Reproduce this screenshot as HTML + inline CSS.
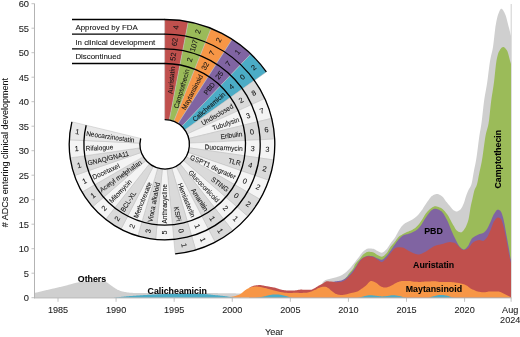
<!DOCTYPE html>
<html><head><meta charset="utf-8"><style>
html,body{margin:0;padding:0;background:#fff;}
svg{display:block;font-family:"Liberation Sans",Arial,Helvetica,sans-serif;} text{stroke:#222;stroke-width:0.08px;}
</style></head><body>
<svg width="520" height="337" viewBox="0 0 520 337">
<rect width="520" height="337" fill="#fff"/>
<line x1="511.2" y1="4" x2="511.2" y2="298" stroke="#cfcfcf" stroke-width="1"/>
<path d="M34.5,297.8 L34.5,292.98 35.0,292.86 35.5,292.74 36.0,292.62 36.5,292.50 37.0,292.38 37.5,292.26 38.0,292.14 38.5,292.02 39.0,291.90 39.5,291.78 40.0,291.66 40.5,291.54 41.0,291.42 41.5,291.30 42.0,291.18 42.5,291.06 43.0,290.95 43.5,290.83 44.0,290.71 44.5,290.59 45.0,290.47 45.5,290.36 46.0,290.24 46.5,290.12 47.0,290.00 47.5,289.88 48.0,289.77 48.5,289.65 49.0,289.53 49.5,289.42 50.0,289.30 50.5,289.18 51.0,289.07 51.5,288.95 52.0,288.84 52.5,288.72 53.0,288.61 53.5,288.50 54.0,288.38 54.5,288.27 55.0,288.16 55.5,288.04 56.0,287.93 56.5,287.82 57.0,287.70 57.5,287.59 58.0,287.47 58.5,287.36 59.0,287.24 59.5,287.12 60.0,287.00 60.5,286.88 61.0,286.76 61.5,286.64 62.0,286.51 62.5,286.39 63.0,286.27 63.5,286.14 64.0,286.02 64.5,285.89 65.0,285.76 65.5,285.64 66.0,285.51 66.5,285.38 67.0,285.26 67.5,285.13 68.0,285.00 68.5,284.87 69.0,284.74 69.5,284.60 70.0,284.46 70.5,284.31 71.0,284.17 71.5,284.03 72.0,283.88 72.5,283.74 73.0,283.60 73.5,283.46 74.0,283.32 74.5,283.19 75.0,283.06 75.5,282.93 76.0,282.81 76.5,282.70 77.0,282.60 77.5,282.50 78.0,282.41 78.5,282.31 79.0,282.22 79.5,282.13 80.0,282.04 80.5,281.96 81.0,281.88 81.5,281.80 82.0,281.72 82.5,281.65 83.0,281.59 83.5,281.53 84.0,281.48 84.5,281.44 85.0,281.40 85.5,281.37 86.0,281.33 86.5,281.30 87.0,281.27 87.5,281.24 88.0,281.22 88.5,281.19 89.0,281.17 89.5,281.15 90.0,281.13 90.5,281.12 91.0,281.11 91.5,281.10 92.0,281.10 92.5,281.10 93.0,281.10 93.5,281.11 94.0,281.12 94.5,281.12 95.0,281.13 95.5,281.14 96.0,281.16 96.5,281.17 97.0,281.19 97.5,281.20 98.0,281.22 98.5,281.24 99.0,281.26 99.5,281.28 100.0,281.30 100.5,281.32 101.0,281.35 101.5,281.39 102.0,281.43 102.5,281.47 103.0,281.53 103.5,281.59 104.0,281.65 104.5,281.73 105.0,281.81 105.5,281.90 106.0,282.04 106.5,282.25 107.0,282.52 107.5,282.84 108.0,283.20 108.5,283.58 109.0,283.97 109.5,284.35 110.0,284.72 110.5,285.07 111.0,285.40 111.5,285.75 112.0,286.10 112.5,286.45 113.0,286.80 113.5,287.14 114.0,287.46 114.5,287.79 115.0,288.13 115.5,288.46 116.0,288.78 116.5,289.10 117.0,289.39 117.5,289.66 118.0,289.90 118.5,290.12 119.0,290.33 119.5,290.53 120.0,290.72 120.5,290.90 121.0,291.07 121.5,291.23 122.0,291.38 122.5,291.51 123.0,291.62 123.5,291.73 124.0,291.84 124.5,291.94 125.0,292.03 125.5,292.12 126.0,292.21 126.5,292.29 127.0,292.36 127.5,292.43 128.0,292.49 128.5,292.54 129.0,292.59 129.5,292.63 130.0,292.67 130.5,292.71 131.0,292.75 131.5,292.79 132.0,292.82 132.5,292.85 133.0,292.88 133.5,292.91 134.0,292.93 134.5,292.95 135.0,292.97 135.5,292.99 136.0,293.00 136.5,293.01 137.0,293.02 137.5,293.03 138.0,293.04 138.5,293.05 139.0,293.06 139.5,293.07 140.0,293.08 140.5,293.08 141.0,293.09 141.5,293.09 142.0,293.10 142.5,293.10 143.0,293.10 143.5,293.10 144.0,293.10 144.5,293.10 145.0,293.10 145.5,293.10 146.0,293.10 146.5,293.10 147.0,293.10 147.5,293.10 148.0,293.10 148.5,293.10 149.0,293.10 149.5,293.10 150.0,293.10 150.5,293.10 151.0,293.09 151.5,293.09 152.0,293.09 152.5,293.09 153.0,293.09 153.5,293.09 154.0,293.09 154.5,293.09 155.0,293.09 155.5,293.09 156.0,293.09 156.5,293.09 157.0,293.08 157.5,293.08 158.0,293.08 158.5,293.08 159.0,293.08 159.5,293.08 160.0,293.08 160.5,293.08 161.0,293.08 161.5,293.08 162.0,293.07 162.5,293.07 163.0,293.07 163.5,293.07 164.0,293.07 164.5,293.07 165.0,293.07 165.5,293.07 166.0,293.06 166.5,293.06 167.0,293.06 167.5,293.06 168.0,293.06 168.5,293.06 169.0,293.06 169.5,293.06 170.0,293.05 170.5,293.05 171.0,293.05 171.5,293.05 172.0,293.05 172.5,293.05 173.0,293.05 173.5,293.04 174.0,293.04 174.5,293.04 175.0,293.04 175.5,293.04 176.0,293.04 176.5,293.04 177.0,293.04 177.5,293.03 178.0,293.03 178.5,293.03 179.0,293.03 179.5,293.03 180.0,293.03 180.5,293.03 181.0,293.03 181.5,293.02 182.0,293.02 182.5,293.02 183.0,293.02 183.5,293.02 184.0,293.02 184.5,293.02 185.0,293.02 185.5,293.02 186.0,293.02 186.5,293.01 187.0,293.01 187.5,293.01 188.0,293.01 188.5,293.01 189.0,293.01 189.5,293.01 190.0,293.01 190.5,293.01 191.0,293.01 191.5,293.01 192.0,293.01 192.5,293.00 193.0,293.00 193.5,293.00 194.0,293.00 194.5,293.00 195.0,293.00 195.5,293.00 196.0,293.00 196.5,293.00 197.0,293.00 197.5,293.00 198.0,293.00 198.5,293.00 199.0,293.00 199.5,293.00 200.0,293.00 200.5,293.00 201.0,293.00 201.5,293.00 202.0,293.00 202.5,293.00 203.0,293.00 203.5,293.01 204.0,293.01 204.5,293.01 205.0,293.01 205.5,293.01 206.0,293.02 206.5,293.02 207.0,293.02 207.5,293.03 208.0,293.03 208.5,293.03 209.0,293.04 209.5,293.04 210.0,293.05 210.5,293.05 211.0,293.05 211.5,293.06 212.0,293.06 212.5,293.07 213.0,293.07 213.5,293.08 214.0,293.08 214.5,293.09 215.0,293.09 215.5,293.10 216.0,293.11 216.5,293.11 217.0,293.12 217.5,293.12 218.0,293.13 218.5,293.14 219.0,293.14 219.5,293.15 220.0,293.15 220.5,293.16 221.0,293.17 221.5,293.17 222.0,293.18 222.5,293.19 223.0,293.19 223.5,293.20 224.0,293.21 224.5,293.21 225.0,293.22 225.5,293.23 226.0,293.23 226.5,293.24 227.0,293.25 227.5,293.25 228.0,293.26 228.5,293.27 229.0,293.27 229.5,293.28 230.0,293.29 230.5,293.29 231.0,293.30 231.5,293.31 232.0,293.31 232.5,293.32 233.0,293.33 233.5,293.33 234.0,293.34 234.5,293.35 235.0,293.36 235.5,293.37 236.0,293.38 236.5,293.39 237.0,293.40 237.5,293.42 238.0,293.44 238.5,293.47 239.0,293.51 239.5,293.54 240.0,293.56 240.5,293.58 241.0,293.59 L241.0,297.8 Z M321.0,297.8 L321.0,284.53 321.5,284.15 322.0,283.44 322.5,282.65 323.0,282.00 323.5,281.51 324.0,281.05 324.5,280.66 325.0,280.35 325.5,280.12 326.0,279.93 326.5,279.75 327.0,279.59 327.5,279.44 328.0,279.31 328.5,279.19 329.0,279.07 329.5,278.95 330.0,278.84 330.5,278.72 331.0,278.60 331.5,278.47 332.0,278.35 332.5,278.22 333.0,278.11 333.5,277.99 334.0,277.87 334.5,277.75 335.0,277.62 335.5,277.49 336.0,277.34 336.5,277.19 337.0,277.03 337.5,276.87 338.0,276.70 338.5,276.52 339.0,276.34 339.5,276.14 340.0,275.93 340.5,275.71 341.0,275.47 341.5,275.21 342.0,274.94 342.5,274.65 343.0,274.34 343.5,274.02 344.0,273.69 344.5,273.34 345.0,272.98 345.5,272.59 346.0,272.18 346.5,271.74 347.0,271.28 347.5,270.81 348.0,270.32 348.5,269.82 349.0,269.31 349.5,268.78 350.0,268.23 350.5,267.65 351.0,267.05 351.5,266.44 352.0,265.81 352.5,265.18 353.0,264.55 353.5,263.92 354.0,263.30 354.5,262.67 355.0,262.04 355.5,261.40 356.0,260.75 356.5,260.11 357.0,259.47 357.5,258.83 358.0,258.20 358.5,257.55 359.0,256.88 359.5,256.19 360.0,255.48 360.5,254.78 361.0,254.10 361.5,253.43 362.0,252.80 362.5,252.22 363.0,251.69 363.5,251.22 364.0,250.83 364.5,250.45 365.0,250.08 365.5,249.72 366.0,249.38 366.5,249.08 367.0,248.83 367.5,248.64 368.0,248.53 368.5,248.50 369.0,248.50 369.5,248.51 370.0,248.53 370.5,248.55 371.0,248.57 371.5,248.60 372.0,248.64 372.5,248.68 373.0,248.72 373.5,248.84 374.0,249.03 374.5,249.28 375.0,249.57 375.5,249.87 376.0,250.18 376.5,250.48 377.0,250.76 377.5,250.99 378.0,251.24 378.5,251.51 379.0,251.78 379.5,252.04 380.0,252.28 380.5,252.48 381.0,252.62 381.5,252.69 382.0,252.68 382.5,252.55 383.0,252.32 383.5,252.01 384.0,251.63 384.5,251.21 385.0,250.74 385.5,250.27 386.0,249.79 386.5,249.30 387.0,248.72 387.5,248.05 388.0,247.31 388.5,246.54 389.0,245.74 389.5,244.94 390.0,244.17 390.5,243.44 391.0,242.76 391.5,242.12 392.0,241.49 392.5,240.87 393.0,240.25 393.5,239.61 394.0,238.95 394.5,238.25 395.0,237.50 395.5,236.68 396.0,235.78 396.5,234.83 397.0,233.88 397.5,232.96 398.0,232.07 398.5,231.17 399.0,230.28 399.5,229.42 400.0,228.63 400.5,227.93 401.0,227.26 401.5,226.61 402.0,226.00 402.5,225.43 403.0,224.90 403.5,224.43 404.0,224.02 404.5,223.66 405.0,223.33 405.5,223.03 406.0,222.75 406.5,222.49 407.0,222.23 407.5,221.97 408.0,221.72 408.5,221.45 409.0,221.18 409.5,220.93 410.0,220.68 410.5,220.44 411.0,220.19 411.5,219.94 412.0,219.67 412.5,219.38 413.0,219.07 413.5,218.75 414.0,218.41 414.5,218.05 415.0,217.67 415.5,217.28 416.0,216.87 416.5,216.43 417.0,215.98 417.5,215.51 418.0,214.99 418.5,214.43 419.0,213.84 419.5,213.23 420.0,212.58 420.5,211.92 421.0,211.25 421.5,210.57 422.0,209.88 422.5,209.15 423.0,208.39 423.5,207.61 424.0,206.82 424.5,206.03 425.0,205.25 425.5,204.50 426.0,203.76 426.5,203.02 427.0,202.29 427.5,201.57 428.0,200.86 428.5,200.17 429.0,199.50 429.5,198.82 430.0,198.12 430.5,197.43 431.0,196.81 431.5,196.30 432.0,195.94 432.5,195.64 433.0,195.35 433.5,195.08 434.0,194.83 434.5,194.60 435.0,194.41 435.5,194.24 436.0,194.12 436.5,194.04 437.0,194.00 437.5,194.02 438.0,194.11 438.5,194.25 439.0,194.44 439.5,194.67 440.0,194.95 440.5,195.25 441.0,195.58 441.5,195.93 442.0,196.28 442.5,196.66 443.0,197.16 443.5,197.78 444.0,198.48 444.5,199.23 445.0,200.00 445.5,200.73 446.0,201.40 446.5,202.02 447.0,202.62 447.5,203.22 448.0,203.80 448.5,204.38 449.0,204.96 449.5,205.55 450.0,206.14 450.5,206.75 451.0,207.42 451.5,208.11 452.0,208.78 452.5,209.36 453.0,209.80 453.5,210.15 454.0,210.50 454.5,210.82 455.0,211.09 455.5,211.31 456.0,211.45 456.5,211.50 457.0,211.46 457.5,211.33 458.0,211.13 458.5,210.87 459.0,210.56 459.5,210.20 460.0,209.82 460.5,209.41 461.0,208.86 461.5,208.11 462.0,207.22 462.5,206.21 463.0,205.12 463.5,204.00 464.0,202.71 464.5,201.16 465.0,199.48 465.5,197.77 466.0,196.15 466.5,194.73 467.0,193.45 467.5,192.23 468.0,191.08 468.5,190.00 469.0,189.06 469.5,188.25 470.0,187.47 470.5,186.59 471.0,185.51 471.5,184.04 472.0,181.88 472.5,179.22 473.0,176.29 473.5,173.31 474.0,170.52 474.5,168.03 475.0,165.67 475.5,163.24 476.0,160.58 476.5,157.49 477.0,153.96 477.5,150.15 478.0,146.19 478.5,142.24 479.0,138.46 479.5,135.00 480.0,131.97 480.5,129.17 481.0,126.28 481.5,122.99 482.0,119.04 482.5,114.61 483.0,110.00 483.5,105.51 484.0,101.44 484.5,98.02 485.0,95.01 485.5,92.25 486.0,89.56 486.5,86.76 487.0,83.70 487.5,80.20 488.0,76.35 488.5,72.32 489.0,68.32 489.5,64.55 490.0,61.19 490.5,58.40 491.0,56.09 491.5,54.01 492.0,51.94 492.5,49.65 493.0,46.89 493.5,43.30 494.0,39.04 494.5,34.53 495.0,30.17 495.5,26.36 496.0,23.41 496.5,20.81 497.0,18.46 497.5,16.41 498.0,14.75 498.5,13.44 499.0,12.18 499.5,11.02 500.0,10.02 500.5,9.26 501.0,8.83 501.5,8.77 502.0,9.00 502.5,9.47 503.0,10.12 503.5,10.93 504.0,11.86 504.5,12.87 505.0,13.94 505.5,15.03 506.0,16.42 506.5,18.17 507.0,20.14 507.5,22.20 508.0,24.23 508.5,26.14 509.0,28.07 509.5,30.04 510.0,32.01 510.5,33.99 511.0,35.98 L511.0,297.8 Z" fill="#cfcfcf"/>
<path d="M344.0,297.8 L344.0,279.28 344.5,278.96 345.0,278.50 345.5,278.01 346.0,277.50 346.5,276.98 347.0,276.38 347.5,275.70 348.0,274.98 348.5,274.26 349.0,273.56 349.5,272.92 350.0,272.33 350.5,271.78 351.0,271.23 351.5,270.68 352.0,270.09 352.5,269.46 353.0,268.76 353.5,267.97 354.0,266.93 354.5,265.61 355.0,264.50 355.5,263.72 356.0,263.03 356.5,262.41 357.0,261.84 357.5,261.31 358.0,260.80 358.5,260.29 359.0,259.77 359.5,259.20 360.0,258.59 360.5,257.93 361.0,257.26 361.5,256.60 362.0,255.95 362.5,255.34 363.0,254.79 363.5,254.31 364.0,253.93 364.5,253.58 365.0,253.23 365.5,252.90 366.0,252.60 366.5,252.32 367.0,252.10 367.5,251.93 368.0,251.83 368.5,251.80 369.0,251.81 369.5,251.83 370.0,251.86 370.5,251.90 371.0,251.95 371.5,252.01 372.0,252.08 372.5,252.15 373.0,252.24 373.5,252.41 374.0,252.66 374.5,252.97 375.0,253.33 375.5,253.70 376.0,254.08 376.5,254.43 377.0,254.74 377.5,255.00 378.0,255.26 378.5,255.54 379.0,255.81 379.5,256.07 380.0,256.30 380.5,256.49 381.0,256.62 381.5,256.69 382.0,256.68 382.5,256.55 383.0,256.33 383.5,256.02 384.0,255.64 384.5,255.22 385.0,254.76 385.5,254.28 386.0,253.79 386.5,253.29 387.0,252.67 387.5,251.94 388.0,251.14 388.5,250.30 389.0,249.43 389.5,248.58 390.0,247.77 390.5,247.04 391.0,246.37 391.5,245.74 392.0,245.13 392.5,244.54 393.0,243.96 393.5,243.38 394.0,242.80 394.5,242.21 395.0,241.60 395.5,240.95 396.0,240.26 396.5,239.55 397.0,238.84 397.5,238.16 398.0,237.52 398.5,236.96 399.0,236.50 399.5,236.12 400.0,235.79 400.5,235.49 401.0,235.21 401.5,234.94 402.0,234.66 402.5,234.37 403.0,234.07 403.5,233.78 404.0,233.50 404.5,233.22 405.0,232.95 405.5,232.70 406.0,232.46 406.5,232.24 407.0,232.03 407.5,231.83 408.0,231.64 408.5,231.45 409.0,231.26 409.5,231.06 410.0,230.86 410.5,230.64 411.0,230.40 411.5,230.15 412.0,229.89 412.5,229.63 413.0,229.35 413.5,229.06 414.0,228.75 414.5,228.42 415.0,228.07 415.5,227.70 416.0,227.29 416.5,226.84 417.0,226.35 417.5,225.83 418.0,225.27 418.5,224.70 419.0,224.10 419.5,223.47 420.0,222.78 420.5,222.05 421.0,221.29 421.5,220.52 422.0,219.73 422.5,218.95 423.0,218.16 423.5,217.32 424.0,216.46 424.5,215.60 425.0,214.76 425.5,213.97 426.0,213.26 426.5,212.63 427.0,212.03 427.5,211.46 428.0,210.91 428.5,210.39 429.0,209.91 429.5,209.46 430.0,209.04 430.5,208.67 431.0,208.32 431.5,207.96 432.0,207.60 432.5,207.26 433.0,206.95 433.5,206.69 434.0,206.48 434.5,206.35 435.0,206.30 435.5,206.32 436.0,206.37 436.5,206.45 437.0,206.55 437.5,206.69 438.0,206.84 438.5,207.01 439.0,207.20 439.5,207.40 440.0,207.61 440.5,207.82 441.0,208.05 441.5,208.31 442.0,208.64 442.5,209.02 443.0,209.45 443.5,209.93 444.0,210.44 444.5,210.99 445.0,211.56 445.5,212.16 446.0,212.77 446.5,213.40 447.0,214.03 447.5,214.72 448.0,215.50 448.5,216.34 449.0,217.24 449.5,218.18 450.0,219.14 450.5,220.10 451.0,221.07 451.5,222.02 452.0,222.94 452.5,223.81 453.0,224.63 453.5,225.48 454.0,226.37 454.5,227.27 455.0,228.14 455.5,228.95 456.0,229.69 456.5,230.31 457.0,230.79 457.5,231.12 458.0,231.40 458.5,231.67 459.0,231.91 459.5,232.11 460.0,232.27 460.5,232.36 461.0,232.40 461.5,232.30 462.0,232.01 462.5,231.58 463.0,231.03 463.5,230.39 464.0,229.70 464.5,228.98 465.0,228.25 465.5,227.41 466.0,226.44 466.5,225.33 467.0,224.08 467.5,222.69 468.0,221.15 468.5,219.43 469.0,217.02 469.5,213.99 470.0,210.72 470.5,207.62 471.0,205.03 471.5,202.77 472.0,200.63 472.5,198.50 473.0,196.23 473.5,193.89 474.0,191.74 474.5,190.00 475.0,188.76 475.5,187.80 476.0,186.89 476.5,185.81 477.0,184.34 477.5,182.26 478.0,179.76 478.5,177.08 479.0,174.49 479.5,172.11 480.0,169.81 480.5,167.52 481.0,165.16 481.5,162.68 482.0,160.00 482.5,156.95 483.0,153.52 483.5,149.84 484.0,146.10 484.5,142.45 485.0,139.04 485.5,136.05 486.0,133.60 486.5,131.61 487.0,129.86 487.5,128.11 488.0,126.13 488.5,123.70 489.0,120.40 489.5,116.22 490.0,111.56 490.5,106.81 491.0,102.36 491.5,98.57 492.0,95.25 492.5,92.16 493.0,89.08 493.5,85.82 494.0,82.15 494.5,77.75 495.0,72.95 495.5,68.18 496.0,63.89 496.5,60.52 497.0,58.10 497.5,55.94 498.0,54.09 498.5,52.60 499.0,51.50 499.5,50.64 500.0,49.82 500.5,49.07 501.0,48.41 501.5,47.85 502.0,47.42 502.5,47.13 503.0,47.00 503.5,47.05 504.0,47.24 504.5,47.56 505.0,48.00 505.5,48.53 506.0,49.13 506.5,49.79 507.0,50.50 507.5,51.50 508.0,52.98 508.5,54.78 509.0,56.76 509.5,58.77 510.0,60.67 510.5,62.34 511.0,63.93 L511.0,297.8 Z" fill="#9bbb59"/>
<path d="M332.5,297.8 L332.5,281.75 333.0,281.80 333.5,281.77 334.0,281.69 334.5,281.58 335.0,281.46 335.5,281.35 336.0,281.27 336.5,281.20 337.0,281.14 337.5,281.09 338.0,281.03 338.5,280.98 339.0,280.91 339.5,280.84 340.0,280.76 340.5,280.66 341.0,280.53 341.5,280.38 342.0,280.20 342.5,280.00 343.0,279.78 343.5,279.54 344.0,279.28 344.5,279.01 345.0,278.72 345.5,278.38 346.0,278.00 346.5,277.57 347.0,277.11 347.5,276.63 348.0,276.13 348.5,275.62 349.0,275.11 349.5,274.59 350.0,274.05 350.5,273.48 351.0,272.89 351.5,272.28 352.0,271.66 352.5,271.03 353.0,270.38 353.5,269.73 354.0,269.07 354.5,268.39 355.0,267.69 355.5,266.97 356.0,266.24 356.5,265.50 357.0,264.71 357.5,263.86 358.0,263.00 358.5,262.17 359.0,261.42 359.5,260.80 360.0,260.28 360.5,259.78 361.0,259.31 361.5,258.88 362.0,258.48 362.5,258.12 363.0,257.79 363.5,257.50 364.0,257.25 364.5,257.02 365.0,256.78 365.5,256.55 366.0,256.34 366.5,256.16 367.0,256.00 367.5,255.89 368.0,255.82 368.5,255.80 369.0,255.81 369.5,255.84 370.0,255.88 370.5,255.94 371.0,256.00 371.5,256.08 372.0,256.16 372.5,256.25 373.0,256.34 373.5,256.48 374.0,256.68 374.5,256.91 375.0,257.16 375.5,257.42 376.0,257.69 376.5,257.95 377.0,258.18 377.5,258.38 378.0,258.59 378.5,258.82 379.0,259.05 379.5,259.26 380.0,259.46 380.5,259.62 381.0,259.73 381.5,259.79 382.0,259.77 382.5,259.62 383.0,259.35 383.5,258.99 384.0,258.55 384.5,258.07 385.0,257.55 385.5,257.02 386.0,256.50 386.5,255.99 387.0,255.43 387.5,254.82 388.0,254.16 388.5,253.48 389.0,252.77 389.5,252.05 390.0,251.34 390.5,250.64 391.0,249.94 391.5,249.23 392.0,248.51 392.5,247.78 393.0,247.05 393.5,246.32 394.0,245.60 394.5,244.89 395.0,244.20 395.5,243.51 396.0,242.81 396.5,242.11 397.0,241.42 397.5,240.76 398.0,240.13 398.5,239.54 399.0,239.00 399.5,238.49 400.0,237.99 400.5,237.49 401.0,237.02 401.5,236.57 402.0,236.15 402.5,235.77 403.0,235.44 403.5,235.17 404.0,234.96 404.5,234.80 405.0,234.66 405.5,234.54 406.0,234.44 406.5,234.34 407.0,234.24 407.5,234.13 408.0,234.01 408.5,233.87 409.0,233.71 409.5,233.55 410.0,233.37 410.5,233.18 411.0,232.99 411.5,232.78 412.0,232.56 412.5,232.34 413.0,232.11 413.5,231.86 414.0,231.61 414.5,231.34 415.0,231.06 415.5,230.76 416.0,230.44 416.5,230.10 417.0,229.73 417.5,229.33 418.0,228.88 418.5,228.36 419.0,227.79 419.5,227.19 420.0,226.56 420.5,225.90 421.0,225.23 421.5,224.49 422.0,223.69 422.5,222.86 423.0,222.01 423.5,221.16 424.0,220.33 424.5,219.55 425.0,218.78 425.5,218.01 426.0,217.25 426.5,216.50 427.0,215.77 427.5,215.07 428.0,214.40 428.5,213.73 429.0,213.06 429.5,212.39 430.0,211.76 430.5,211.18 431.0,210.69 431.5,210.30 432.0,209.97 432.5,209.65 433.0,209.35 433.5,209.09 434.0,208.88 434.5,208.75 435.0,208.70 435.5,208.72 436.0,208.78 436.5,208.89 437.0,209.02 437.5,209.19 438.0,209.38 438.5,209.60 439.0,209.84 439.5,210.10 440.0,210.38 440.5,210.66 441.0,210.96 441.5,211.34 442.0,211.82 442.5,212.40 443.0,213.05 443.5,213.78 444.0,214.58 444.5,215.42 445.0,216.30 445.5,217.20 446.0,218.13 446.5,219.06 447.0,219.99 447.5,220.99 448.0,222.10 448.5,223.29 449.0,224.52 449.5,225.79 450.0,227.06 450.5,228.31 451.0,229.51 451.5,230.65 452.0,231.78 452.5,232.91 453.0,234.04 453.5,235.15 454.0,236.24 454.5,237.30 455.0,238.33 455.5,239.32 456.0,240.28 456.5,241.26 457.0,242.24 457.5,243.22 458.0,244.16 458.5,245.05 459.0,245.85 459.5,246.55 460.0,247.11 460.5,247.56 461.0,247.99 461.5,248.40 462.0,248.77 462.5,249.08 463.0,249.32 463.5,249.46 464.0,249.50 464.5,249.38 465.0,249.12 465.5,248.74 466.0,248.27 466.5,247.74 467.0,247.18 467.5,246.61 468.0,245.98 468.5,245.15 469.0,244.17 469.5,243.10 470.0,242.00 470.5,240.93 471.0,239.95 471.5,239.12 472.0,238.50 472.5,238.03 473.0,237.61 473.5,237.24 474.0,236.91 474.5,236.59 475.0,236.30 475.5,236.01 476.0,235.73 476.5,235.45 477.0,235.18 477.5,234.92 478.0,234.68 478.5,234.45 479.0,234.25 479.5,234.07 480.0,233.91 480.5,233.79 481.0,233.68 481.5,233.57 482.0,233.44 482.5,233.29 483.0,233.10 483.5,232.84 484.0,232.48 484.5,232.05 485.0,231.55 485.5,230.99 486.0,230.39 486.5,229.76 487.0,229.08 487.5,228.26 488.0,227.31 488.5,226.28 489.0,225.19 489.5,224.07 490.0,222.96 490.5,221.89 491.0,220.75 491.5,219.53 492.0,218.29 492.5,217.06 493.0,215.90 493.5,214.85 494.0,213.96 494.5,213.18 495.0,212.40 495.5,211.64 496.0,210.94 496.5,210.34 497.0,209.90 497.5,209.64 498.0,209.61 498.5,209.72 499.0,209.93 499.5,210.22 500.0,210.59 500.5,211.00 501.0,211.66 501.5,212.71 502.0,214.06 502.5,215.64 503.0,217.35 503.5,219.15 504.0,221.38 504.5,223.99 505.0,226.82 505.5,229.73 506.0,232.56 506.5,235.25 507.0,237.95 507.5,240.68 508.0,243.43 508.5,246.21 509.0,249.08 509.5,252.32 510.0,255.52 510.5,258.14 511.0,259.85 L511.0,297.8 Z" fill="#8064a2"/>
<path d="M249.0,297.8 L249.0,288.04 249.5,287.70 250.0,287.40 250.5,287.13 251.0,286.86 251.5,286.61 252.0,286.38 252.5,286.19 253.0,286.02 253.5,285.86 254.0,285.72 254.5,285.60 255.0,285.49 255.5,285.38 256.0,285.29 256.5,285.22 257.0,285.19 257.5,285.16 258.0,285.14 258.5,285.12 259.0,285.11 259.5,285.10 260.0,285.10 260.5,285.11 261.0,285.16 261.5,285.22 262.0,285.30 262.5,285.39 263.0,285.50 263.5,285.60 264.0,285.71 264.5,285.81 265.0,285.90 265.5,285.99 266.0,286.07 266.5,286.16 267.0,286.25 267.5,286.34 268.0,286.43 268.5,286.53 269.0,286.62 269.5,286.71 270.0,286.80 270.5,286.89 271.0,286.97 271.5,287.05 272.0,287.14 272.5,287.22 273.0,287.30 273.5,287.39 274.0,287.49 274.5,287.59 275.0,287.70 275.5,287.83 276.0,287.97 276.5,288.14 277.0,288.31 277.5,288.49 278.0,288.67 278.5,288.85 279.0,289.01 279.5,289.17 280.0,289.30 280.5,289.42 281.0,289.55 281.5,289.67 282.0,289.78 282.5,289.90 283.0,290.00 283.5,290.09 284.0,290.18 284.5,290.25 285.0,290.30 285.5,290.35 286.0,290.39 286.5,290.43 287.0,290.47 287.5,290.51 288.0,290.54 288.5,290.56 289.0,290.58 289.5,290.60 290.0,290.60 290.5,290.60 291.0,290.59 291.5,290.58 292.0,290.56 292.5,290.54 293.0,290.51 293.5,290.49 294.0,290.46 294.5,290.43 295.0,290.40 295.5,290.36 296.0,290.29 296.5,290.22 297.0,290.13 297.5,290.03 298.0,289.94 298.5,289.84 299.0,289.76 299.5,289.69 300.0,289.64 300.5,289.61 301.0,289.60 301.5,289.61 302.0,289.62 302.5,289.64 303.0,289.67 303.5,289.69 304.0,289.72 304.5,289.74 305.0,289.77 305.5,289.78 306.0,289.80 306.5,289.80 307.0,289.80 307.5,289.80 308.0,289.79 308.5,289.78 309.0,289.77 309.5,289.76 310.0,289.74 310.5,289.73 311.0,289.71 311.5,289.67 312.0,289.55 312.5,289.35 313.0,289.11 313.5,288.82 314.0,288.51 314.5,288.20 315.0,287.91 315.5,287.64 316.0,287.35 316.5,287.04 317.0,286.73 317.5,286.41 318.0,286.10 318.5,285.79 319.0,285.51 319.5,285.24 320.0,285.00 320.5,284.76 321.0,284.53 321.5,284.30 322.0,284.05 322.5,283.77 323.0,283.44 323.5,283.08 324.0,282.71 324.5,282.34 325.0,282.00 325.5,281.71 326.0,281.48 326.5,281.34 327.0,281.30 327.5,281.31 328.0,281.33 328.5,281.35 329.0,281.39 329.5,281.43 330.0,281.47 330.5,281.52 331.0,281.56 331.5,281.61 332.0,281.67 332.5,281.75 333.0,281.84 333.5,281.93 334.0,282.02 334.5,282.10 335.0,282.16 335.5,282.19 336.0,282.20 336.5,282.19 337.0,282.18 337.5,282.17 338.0,282.15 338.5,282.12 339.0,282.09 339.5,282.06 340.0,282.02 340.5,281.98 341.0,281.90 341.5,281.77 342.0,281.60 342.5,281.40 343.0,281.18 343.5,280.93 344.0,280.67 344.5,280.41 345.0,280.13 345.5,279.79 346.0,279.40 346.5,278.97 347.0,278.51 347.5,278.02 348.0,277.51 348.5,277.00 349.0,276.50 349.5,276.00 350.0,275.51 350.5,275.00 351.0,274.48 351.5,273.95 352.0,273.39 352.5,272.80 353.0,272.19 353.5,271.54 354.0,270.82 354.5,270.01 355.0,269.14 355.5,268.24 356.0,267.35 356.5,266.50 357.0,265.67 357.5,264.83 358.0,263.99 358.5,263.19 359.0,262.45 359.5,261.80 360.0,261.20 360.5,260.61 361.0,260.03 361.5,259.49 362.0,258.98 362.5,258.53 363.0,258.13 363.5,257.80 364.0,257.56 364.5,257.34 365.0,257.13 365.5,256.93 366.0,256.75 366.5,256.59 367.0,256.47 367.5,256.37 368.0,256.31 368.5,256.30 369.0,256.31 369.5,256.35 370.0,256.40 370.5,256.47 371.0,256.54 371.5,256.63 372.0,256.73 372.5,256.84 373.0,256.95 373.5,257.12 374.0,257.35 374.5,257.62 375.0,257.92 375.5,258.24 376.0,258.58 376.5,258.91 377.0,259.22 377.5,259.52 378.0,259.86 378.5,260.24 379.0,260.63 379.5,261.02 380.0,261.37 380.5,261.66 381.0,261.88 381.5,261.99 382.0,261.97 382.5,261.82 383.0,261.55 383.5,261.18 384.0,260.74 384.5,260.25 385.0,259.73 385.5,259.20 386.0,258.69 386.5,258.20 387.0,257.66 387.5,257.07 388.0,256.44 388.5,255.79 389.0,255.13 389.5,254.47 390.0,253.83 390.5,253.22 391.0,252.61 391.5,251.97 392.0,251.30 392.5,250.63 393.0,249.99 393.5,249.40 394.0,248.89 394.5,248.48 395.0,248.20 395.5,247.99 396.0,247.80 396.5,247.62 397.0,247.48 397.5,247.37 398.0,247.31 398.5,247.30 399.0,247.30 399.5,247.31 400.0,247.33 400.5,247.34 401.0,247.36 401.5,247.38 402.0,247.41 402.5,247.48 403.0,247.62 403.5,247.81 404.0,248.04 404.5,248.31 405.0,248.61 405.5,248.92 406.0,249.24 406.5,249.56 407.0,249.86 407.5,250.14 408.0,250.40 408.5,250.66 409.0,250.94 409.5,251.22 410.0,251.50 410.5,251.78 411.0,252.06 411.5,252.33 412.0,252.59 412.5,252.82 413.0,253.04 413.5,253.23 414.0,253.40 414.5,253.57 415.0,253.75 415.5,253.91 416.0,254.07 416.5,254.21 417.0,254.33 417.5,254.42 418.0,254.48 418.5,254.50 419.0,254.47 419.5,254.40 420.0,254.28 420.5,254.12 421.0,253.93 421.5,253.72 422.0,253.49 422.5,253.24 423.0,252.99 423.5,252.74 424.0,252.49 424.5,252.25 425.0,252.00 425.5,251.73 426.0,251.44 426.5,251.13 427.0,250.81 427.5,250.47 428.0,250.13 428.5,249.79 429.0,249.44 429.5,249.10 430.0,248.76 430.5,248.43 431.0,248.11 431.5,247.80 432.0,247.49 432.5,247.17 433.0,246.85 433.5,246.54 434.0,246.26 434.5,246.01 435.0,245.80 435.5,245.63 436.0,245.47 436.5,245.33 437.0,245.19 437.5,245.07 438.0,244.95 438.5,244.84 439.0,244.74 439.5,244.63 440.0,244.53 440.5,244.43 441.0,244.32 441.5,244.21 442.0,244.10 442.5,243.97 443.0,243.84 443.5,243.69 444.0,243.53 444.5,243.36 445.0,243.19 445.5,243.02 446.0,242.85 446.5,242.69 447.0,242.55 447.5,242.41 448.0,242.30 448.5,242.21 449.0,242.14 449.5,242.11 450.0,242.10 450.5,242.12 451.0,242.16 451.5,242.22 452.0,242.29 452.5,242.38 453.0,242.49 453.5,242.60 454.0,242.72 454.5,242.86 455.0,243.11 455.5,243.45 456.0,243.87 456.5,244.35 457.0,244.86 457.5,245.37 458.0,245.87 458.5,246.33 459.0,246.76 459.5,247.23 460.0,247.74 460.5,248.26 461.0,248.75 461.5,249.20 462.0,249.58 462.5,249.85 463.0,249.99 463.5,249.99 464.0,249.95 464.5,249.87 465.0,249.75 465.5,249.61 466.0,249.45 466.5,249.26 467.0,249.06 467.5,248.84 468.0,248.56 468.5,248.11 469.0,247.52 469.5,246.85 470.0,246.12 470.5,245.38 471.0,244.67 471.5,244.02 472.0,243.49 472.5,243.05 473.0,242.62 473.5,242.21 474.0,241.83 474.5,241.49 475.0,241.20 475.5,240.97 476.0,240.80 476.5,240.64 477.0,240.49 477.5,240.36 478.0,240.25 478.5,240.16 479.0,240.11 479.5,240.10 480.0,240.16 480.5,240.28 481.0,240.43 481.5,240.60 482.0,240.75 482.5,240.86 483.0,240.90 483.5,240.81 484.0,240.58 484.5,240.21 485.0,239.75 485.5,239.21 486.0,238.63 486.5,238.04 487.0,237.41 487.5,236.63 488.0,235.71 488.5,234.69 489.0,233.59 489.5,232.45 490.0,231.30 490.5,230.17 491.0,228.94 491.5,227.57 492.0,226.14 492.5,224.74 493.0,223.42 493.5,222.27 494.0,221.35 494.5,220.63 495.0,219.91 495.5,219.24 496.0,218.63 496.5,218.13 497.0,217.75 497.5,217.54 498.0,217.51 498.5,217.57 499.0,217.70 499.5,217.89 500.0,218.12 500.5,218.40 501.0,218.98 501.5,220.03 502.0,221.43 502.5,223.06 503.0,224.78 503.5,226.50 504.0,228.48 504.5,230.73 505.0,233.15 505.5,235.67 506.0,238.20 506.5,240.77 507.0,243.53 507.5,246.36 508.0,249.18 508.5,251.88 509.0,254.38 509.5,256.83 510.0,259.15 510.5,261.25 511.0,263.05 L511.0,297.8 Z" fill="#c0504d"/>
<path d="M230.0,297.8 L230.0,296.90 230.5,296.84 231.0,296.78 231.5,296.71 232.0,296.64 232.5,296.57 233.0,296.49 233.5,296.40 234.0,296.30 234.5,296.19 235.0,296.05 235.5,295.90 236.0,295.74 236.5,295.57 237.0,295.40 237.5,295.24 238.0,295.07 238.5,294.90 239.0,294.71 239.5,294.49 240.0,294.24 240.5,293.94 241.0,293.59 241.5,293.21 242.0,292.81 242.5,292.41 243.0,292.02 243.5,291.61 244.0,291.17 244.5,290.74 245.0,290.35 245.5,289.99 246.0,289.67 246.5,289.36 247.0,289.07 247.5,288.80 248.0,288.54 248.5,288.28 249.0,288.04 249.5,287.82 250.0,287.62 250.5,287.42 251.0,287.24 251.5,287.07 252.0,286.94 252.5,286.84 253.0,286.75 253.5,286.67 254.0,286.62 254.5,286.60 255.0,286.60 255.5,286.60 256.0,286.60 256.5,286.60 257.0,286.60 257.5,286.61 258.0,286.65 258.5,286.70 259.0,286.76 259.5,286.83 260.0,286.90 260.5,286.97 261.0,287.06 261.5,287.16 262.0,287.27 262.5,287.38 263.0,287.51 263.5,287.63 264.0,287.75 264.5,287.88 265.0,288.00 265.5,288.12 266.0,288.24 266.5,288.37 267.0,288.50 267.5,288.63 268.0,288.76 268.5,288.90 269.0,289.03 269.5,289.17 270.0,289.30 270.5,289.44 271.0,289.58 271.5,289.72 272.0,289.86 272.5,290.01 273.0,290.15 273.5,290.29 274.0,290.43 274.5,290.57 275.0,290.70 275.5,290.83 276.0,290.96 276.5,291.09 277.0,291.22 277.5,291.34 278.0,291.46 278.5,291.58 279.0,291.69 279.5,291.80 280.0,291.90 280.5,292.00 281.0,292.09 281.5,292.19 282.0,292.28 282.5,292.37 283.0,292.45 283.5,292.52 284.0,292.59 284.5,292.65 285.0,292.70 285.5,292.74 286.0,292.79 286.5,292.83 287.0,292.87 287.5,292.90 288.0,292.94 288.5,292.96 289.0,292.98 289.5,293.00 290.0,293.00 290.5,292.99 291.0,292.98 291.5,292.96 292.0,292.93 292.5,292.90 293.0,292.87 293.5,292.84 294.0,292.82 294.5,292.81 295.0,292.80 295.5,292.80 296.0,292.81 296.5,292.82 297.0,292.83 297.5,292.84 298.0,292.85 298.5,292.87 299.0,292.88 299.5,292.89 300.0,292.89 300.5,292.90 301.0,292.90 301.5,292.90 302.0,292.89 302.5,292.88 303.0,292.87 303.5,292.85 304.0,292.83 304.5,292.81 305.0,292.79 305.5,292.76 306.0,292.73 306.5,292.70 307.0,292.65 307.5,292.57 308.0,292.47 308.5,292.35 309.0,292.21 309.5,292.06 310.0,291.89 310.5,291.73 311.0,291.56 311.5,291.40 312.0,291.22 312.5,291.02 313.0,290.81 313.5,290.59 314.0,290.36 314.5,290.12 315.0,289.89 315.5,289.66 316.0,289.41 316.5,289.14 317.0,288.87 317.5,288.60 318.0,288.34 318.5,288.10 319.0,287.88 319.5,287.69 320.0,287.49 320.5,287.31 321.0,287.14 321.5,287.00 322.0,286.91 322.5,286.86 323.0,286.81 323.5,286.76 324.0,286.73 324.5,286.71 325.0,286.70 325.5,286.75 326.0,286.89 326.5,287.10 327.0,287.35 327.5,287.63 328.0,287.90 328.5,288.21 329.0,288.60 329.5,289.03 330.0,289.49 330.5,289.96 331.0,290.40 331.5,290.80 332.0,291.18 332.5,291.57 333.0,291.97 333.5,292.35 334.0,292.73 334.5,293.07 335.0,293.39 335.5,293.67 336.0,293.89 336.5,294.06 337.0,294.22 337.5,294.38 338.0,294.52 338.5,294.65 339.0,294.77 339.5,294.86 340.0,294.94 340.5,294.98 341.0,295.00 341.5,294.99 342.0,294.97 342.5,294.93 343.0,294.89 343.5,294.83 344.0,294.77 344.5,294.70 345.0,294.62 345.5,294.55 346.0,294.47 346.5,294.36 347.0,294.23 347.5,294.09 348.0,293.93 348.5,293.76 349.0,293.60 349.5,293.44 350.0,293.30 350.5,293.17 351.0,293.05 351.5,292.94 352.0,292.83 352.5,292.73 353.0,292.63 353.5,292.52 354.0,292.42 354.5,292.31 355.0,292.19 355.5,292.06 356.0,291.92 356.5,291.77 357.0,291.61 357.5,291.42 358.0,291.20 358.5,290.93 359.0,290.62 359.5,290.29 360.0,289.94 360.5,289.58 361.0,289.22 361.5,288.85 362.0,288.50 362.5,288.15 363.0,287.79 363.5,287.43 364.0,287.06 364.5,286.68 365.0,286.29 365.5,285.90 366.0,285.50 366.5,285.05 367.0,284.53 367.5,283.96 368.0,283.37 368.5,282.79 369.0,282.25 369.5,281.77 370.0,281.39 370.5,281.12 371.0,281.00 371.5,281.02 372.0,281.09 372.5,281.22 373.0,281.38 373.5,281.58 374.0,281.81 374.5,282.05 375.0,282.31 375.5,282.58 376.0,282.84 376.5,283.11 377.0,283.43 377.5,283.82 378.0,284.24 378.5,284.68 379.0,285.13 379.5,285.55 380.0,285.93 380.5,286.26 381.0,286.50 381.5,286.70 382.0,286.90 382.5,287.08 383.0,287.25 383.5,287.39 384.0,287.50 384.5,287.57 385.0,287.60 385.5,287.58 386.0,287.52 386.5,287.43 387.0,287.31 387.5,287.17 388.0,287.01 388.5,286.85 389.0,286.67 389.5,286.50 390.0,286.30 390.5,286.04 391.0,285.76 391.5,285.47 392.0,285.20 392.5,284.94 393.0,284.67 393.5,284.39 394.0,284.10 394.5,283.82 395.0,283.53 395.5,283.26 396.0,282.99 396.5,282.73 397.0,282.49 397.5,282.27 398.0,282.07 398.5,281.89 399.0,281.74 399.5,281.59 400.0,281.44 400.5,281.30 401.0,281.17 401.5,281.06 402.0,280.98 402.5,280.92 403.0,280.90 403.5,280.90 404.0,280.90 404.5,280.91 405.0,280.91 405.5,280.92 406.0,280.93 406.5,280.93 407.0,280.94 407.5,280.96 408.0,280.97 408.5,280.98 409.0,280.99 409.5,281.01 410.0,281.06 410.5,281.12 411.0,281.20 411.5,281.28 412.0,281.38 412.5,281.47 413.0,281.56 413.5,281.65 414.0,281.72 414.5,281.77 415.0,281.80 415.5,281.82 416.0,281.83 416.5,281.85 417.0,281.86 417.5,281.87 418.0,281.88 418.5,281.89 419.0,281.90 419.5,281.90 420.0,281.90 420.5,281.89 421.0,281.88 421.5,281.85 422.0,281.81 422.5,281.78 423.0,281.73 423.5,281.69 424.0,281.66 424.5,281.62 425.0,281.60 425.5,281.58 426.0,281.56 426.5,281.54 427.0,281.52 427.5,281.50 428.0,281.48 428.5,281.46 429.0,281.44 429.5,281.42 430.0,281.40 430.5,281.39 431.0,281.37 431.5,281.36 432.0,281.34 432.5,281.33 433.0,281.32 433.5,281.31 434.0,281.31 434.5,281.30 435.0,281.30 435.5,281.30 436.0,281.33 436.5,281.40 437.0,281.50 437.5,281.60 438.0,281.72 438.5,281.83 439.0,281.92 439.5,281.98 440.0,282.00 440.5,282.00 441.0,282.00 441.5,282.00 442.0,282.00 442.5,282.00 443.0,282.00 443.5,282.00 444.0,282.00 444.5,282.00 445.0,282.00 445.5,282.00 446.0,282.00 446.5,282.00 447.0,282.00 447.5,282.00 448.0,282.00 448.5,282.00 449.0,282.00 449.5,282.01 450.0,282.02 450.5,282.04 451.0,282.07 451.5,282.11 452.0,282.15 452.5,282.20 453.0,282.25 453.5,282.31 454.0,282.37 454.5,282.43 455.0,282.50 455.5,282.57 456.0,282.64 456.5,282.71 457.0,282.78 457.5,282.86 458.0,282.93 458.5,283.01 459.0,283.09 459.5,283.19 460.0,283.29 460.5,283.39 461.0,283.51 461.5,283.63 462.0,283.76 462.5,283.90 463.0,284.04 463.5,284.19 464.0,284.36 464.5,284.56 465.0,284.76 465.5,284.99 466.0,285.23 466.5,285.49 467.0,285.78 467.5,286.12 468.0,286.51 468.5,286.93 469.0,287.35 469.5,287.75 470.0,288.11 470.5,288.42 471.0,288.69 471.5,288.95 472.0,289.19 472.5,289.43 473.0,289.65 473.5,289.87 474.0,290.09 474.5,290.31 475.0,290.54 475.5,290.75 476.0,290.96 476.5,291.14 477.0,291.30 477.5,291.42 478.0,291.53 478.5,291.63 479.0,291.74 479.5,291.83 480.0,291.92 480.5,292.01 481.0,292.08 481.5,292.15 482.0,292.21 482.5,292.25 483.0,292.28 483.5,292.30 484.0,292.30 484.5,292.27 485.0,292.23 485.5,292.16 486.0,292.08 486.5,291.99 487.0,291.90 487.5,291.80 488.0,291.71 488.5,291.62 489.0,291.54 489.5,291.47 490.0,291.43 490.5,291.40 491.0,291.40 491.5,291.40 492.0,291.40 492.5,291.40 493.0,291.40 493.5,291.40 494.0,291.40 494.5,291.40 495.0,291.40 495.5,291.40 496.0,291.40 496.5,291.40 497.0,291.40 497.5,291.40 498.0,291.41 498.5,291.47 499.0,291.58 499.5,291.73 500.0,291.91 500.5,292.12 501.0,292.34 501.5,292.57 502.0,292.80 502.5,293.03 503.0,293.24 503.5,293.46 504.0,293.70 504.5,293.95 505.0,294.22 505.5,294.49 506.0,294.76 506.5,295.03 507.0,295.30 507.5,295.55 508.0,295.80 508.5,296.04 509.0,296.27 509.5,296.50 510.0,296.73 510.5,296.95 511.0,297.17 L511.0,297.8 Z" fill="#f79646"/>
<path d="M112.5,297.8 L112.5,297.79 113.0,297.76 113.5,297.71 114.0,297.65 114.5,297.59 115.0,297.52 115.5,297.46 116.0,297.40 116.5,297.35 117.0,297.30 117.5,297.25 118.0,297.20 118.5,297.14 119.0,297.09 119.5,297.04 120.0,296.99 120.5,296.94 121.0,296.89 121.5,296.84 122.0,296.79 122.5,296.74 123.0,296.69 123.5,296.64 124.0,296.59 124.5,296.55 125.0,296.50 125.5,296.46 126.0,296.41 126.5,296.37 127.0,296.33 127.5,296.28 128.0,296.24 128.5,296.20 129.0,296.16 129.5,296.12 130.0,296.08 130.5,296.04 131.0,296.00 131.5,295.96 132.0,295.92 132.5,295.88 133.0,295.85 133.5,295.81 134.0,295.77 134.5,295.74 135.0,295.70 135.5,295.66 136.0,295.63 136.5,295.59 137.0,295.56 137.5,295.52 138.0,295.48 138.5,295.45 139.0,295.41 139.5,295.38 140.0,295.34 140.5,295.31 141.0,295.27 141.5,295.24 142.0,295.20 142.5,295.17 143.0,295.14 143.5,295.10 144.0,295.07 144.5,295.04 145.0,295.01 145.5,294.97 146.0,294.94 146.5,294.91 147.0,294.88 147.5,294.85 148.0,294.82 148.5,294.79 149.0,294.76 149.5,294.73 150.0,294.71 150.5,294.68 151.0,294.65 151.5,294.63 152.0,294.60 152.5,294.57 153.0,294.55 153.5,294.52 154.0,294.50 154.5,294.48 155.0,294.45 155.5,294.43 156.0,294.40 156.5,294.38 157.0,294.35 157.5,294.33 158.0,294.31 158.5,294.28 159.0,294.26 159.5,294.24 160.0,294.22 160.5,294.20 161.0,294.17 161.5,294.15 162.0,294.13 162.5,294.11 163.0,294.09 163.5,294.07 164.0,294.05 164.5,294.04 165.0,294.02 165.5,294.00 166.0,293.99 166.5,293.97 167.0,293.95 167.5,293.94 168.0,293.93 168.5,293.91 169.0,293.90 169.5,293.89 170.0,293.88 170.5,293.86 171.0,293.85 171.5,293.84 172.0,293.82 172.5,293.81 173.0,293.80 173.5,293.79 174.0,293.78 174.5,293.77 175.0,293.76 175.5,293.75 176.0,293.74 176.5,293.73 177.0,293.72 177.5,293.72 178.0,293.71 178.5,293.71 179.0,293.70 179.5,293.70 180.0,293.70 180.5,293.70 181.0,293.70 181.5,293.70 182.0,293.70 182.5,293.70 183.0,293.70 183.5,293.70 184.0,293.70 184.5,293.70 185.0,293.70 185.5,293.70 186.0,293.70 186.5,293.70 187.0,293.70 187.5,293.70 188.0,293.70 188.5,293.70 189.0,293.70 189.5,293.70 190.0,293.70 190.5,293.70 191.0,293.70 191.5,293.70 192.0,293.70 192.5,293.70 193.0,293.70 193.5,293.70 194.0,293.70 194.5,293.70 195.0,293.71 195.5,293.72 196.0,293.73 196.5,293.74 197.0,293.75 197.5,293.77 198.0,293.79 198.5,293.81 199.0,293.82 199.5,293.85 200.0,293.87 200.5,293.89 201.0,293.91 201.5,293.94 202.0,293.96 202.5,293.99 203.0,294.02 203.5,294.04 204.0,294.07 204.5,294.09 205.0,294.12 205.5,294.15 206.0,294.19 206.5,294.23 207.0,294.27 207.5,294.31 208.0,294.36 208.5,294.40 209.0,294.45 209.5,294.51 210.0,294.56 210.5,294.61 211.0,294.66 211.5,294.72 212.0,294.77 212.5,294.82 213.0,294.88 213.5,294.93 214.0,294.98 214.5,295.03 215.0,295.08 215.5,295.13 216.0,295.18 216.5,295.22 217.0,295.27 217.5,295.32 218.0,295.37 218.5,295.42 219.0,295.47 219.5,295.52 220.0,295.57 220.5,295.63 221.0,295.68 221.5,295.73 222.0,295.79 222.5,295.85 223.0,295.90 223.5,295.96 224.0,296.02 224.5,296.09 225.0,296.15 225.5,296.22 226.0,296.29 226.5,296.36 227.0,296.44 227.5,296.51 228.0,296.59 228.5,296.67 229.0,296.74 229.5,296.82 230.0,296.90 230.5,296.98 231.0,297.07 231.5,297.17 232.0,297.27 232.5,297.37 233.0,297.46 233.5,297.54 234.0,297.60 234.5,297.65 235.0,297.69 235.5,297.74 236.0,297.77 236.5,297.79 L236.5,297.8 Z M253.0,297.8 L253.0,297.78 253.5,297.76 254.0,297.74 254.5,297.71 255.0,297.67 255.5,297.63 256.0,297.59 256.5,297.54 257.0,297.49 257.5,297.45 258.0,297.40 258.5,297.35 259.0,297.29 259.5,297.23 260.0,297.16 260.5,297.08 261.0,297.00 261.5,296.92 262.0,296.83 262.5,296.74 263.0,296.65 263.5,296.55 264.0,296.46 264.5,296.36 265.0,296.25 265.5,296.13 266.0,296.00 266.5,295.86 267.0,295.72 267.5,295.58 268.0,295.44 268.5,295.32 269.0,295.20 269.5,295.09 270.0,295.00 270.5,294.92 271.0,294.83 271.5,294.75 272.0,294.67 272.5,294.59 273.0,294.53 273.5,294.47 274.0,294.43 274.5,294.41 275.0,294.40 275.5,294.41 276.0,294.42 276.5,294.44 277.0,294.46 277.5,294.49 278.0,294.53 278.5,294.57 279.0,294.61 279.5,294.65 280.0,294.70 280.5,294.76 281.0,294.83 281.5,294.92 282.0,295.02 282.5,295.13 283.0,295.25 283.5,295.38 284.0,295.51 284.5,295.65 285.0,295.79 285.5,295.93 286.0,296.07 286.5,296.20 287.0,296.34 287.5,296.50 288.0,296.67 288.5,296.84 289.0,297.01 289.5,297.17 290.0,297.31 290.5,297.42 291.0,297.50 291.5,297.56 292.0,297.61 292.5,297.66 293.0,297.71 293.5,297.75 294.0,297.78 L294.0,297.8 Z M356.0,297.8 L356.0,297.77 356.5,297.74 357.0,297.69 357.5,297.64 358.0,297.58 358.5,297.51 359.0,297.44 359.5,297.37 360.0,297.30 360.5,297.21 361.0,297.10 361.5,296.97 362.0,296.83 362.5,296.68 363.0,296.53 363.5,296.38 364.0,296.23 364.5,296.11 365.0,296.00 365.5,295.90 366.0,295.80 366.5,295.70 367.0,295.60 367.5,295.50 368.0,295.41 368.5,295.34 369.0,295.27 369.5,295.23 370.0,295.20 370.5,295.20 371.0,295.22 371.5,295.25 372.0,295.29 372.5,295.35 373.0,295.41 373.5,295.48 374.0,295.55 374.5,295.62 375.0,295.68 375.5,295.75 376.0,295.80 376.5,295.85 377.0,295.91 377.5,295.97 378.0,296.03 378.5,296.10 379.0,296.16 379.5,296.21 380.0,296.27 380.5,296.31 381.0,296.35 381.5,296.38 382.0,296.40 382.5,296.40 383.0,296.39 383.5,296.37 384.0,296.34 384.5,296.30 385.0,296.25 385.5,296.20 386.0,296.14 386.5,296.08 387.0,296.02 387.5,295.96 388.0,295.90 388.5,295.83 389.0,295.75 389.5,295.66 390.0,295.56 390.5,295.46 391.0,295.37 391.5,295.30 392.0,295.24 392.5,295.21 393.0,295.20 393.5,295.22 394.0,295.25 394.5,295.29 395.0,295.35 395.5,295.41 396.0,295.49 396.5,295.57 397.0,295.65 397.5,295.74 398.0,295.83 398.5,295.91 399.0,296.00 399.5,296.09 400.0,296.21 400.5,296.34 401.0,296.48 401.5,296.62 402.0,296.77 402.5,296.92 403.0,297.07 403.5,297.20 404.0,297.33 404.5,297.43 405.0,297.52 405.5,297.58 406.0,297.62 406.5,297.66 407.0,297.69 407.5,297.72 408.0,297.75 408.5,297.77 409.0,297.79 L409.0,297.8 Z M428.5,297.8 L428.5,297.77 429.0,297.69 429.5,297.57 430.0,297.42 430.5,297.25 431.0,297.06 431.5,296.87 432.0,296.70 432.5,296.53 433.0,296.40 433.5,296.28 434.0,296.15 434.5,296.02 435.0,295.89 435.5,295.76 436.0,295.63 436.5,295.50 437.0,295.38 437.5,295.27 438.0,295.17 438.5,295.08 439.0,295.01 439.5,294.95 440.0,294.92 440.5,294.90 441.0,294.90 441.5,294.92 442.0,294.96 442.5,295.00 443.0,295.05 443.5,295.12 444.0,295.19 444.5,295.26 445.0,295.35 445.5,295.43 446.0,295.52 446.5,295.61 447.0,295.70 447.5,295.81 448.0,295.94 448.5,296.10 449.0,296.28 449.5,296.47 450.0,296.66 450.5,296.85 451.0,297.02 451.5,297.19 452.0,297.32 452.5,297.43 453.0,297.50 453.5,297.55 454.0,297.59 454.5,297.64 455.0,297.68 455.5,297.71 456.0,297.74 456.5,297.77 457.0,297.78 L457.0,297.8 Z" fill="#4bacc6"/>
<line x1="34.5" y1="3.6" x2="34.5" y2="298.2" stroke="#b3b3b3" stroke-width="1"/>
<line x1="34" y1="297.9" x2="511.5" y2="297.9" stroke="#b3b3b3" stroke-width="1"/>
<line x1="31.5" y1="297.70" x2="34.5" y2="297.70" stroke="#b3b3b3" stroke-width="0.8"/>
<text x="29" y="301.00" font-size="9.3" text-anchor="end" fill="#222">0</text>
<line x1="31.5" y1="273.20" x2="34.5" y2="273.20" stroke="#b3b3b3" stroke-width="0.8"/>
<text x="29" y="276.50" font-size="9.3" text-anchor="end" fill="#222">5</text>
<line x1="31.5" y1="248.70" x2="34.5" y2="248.70" stroke="#b3b3b3" stroke-width="0.8"/>
<text x="29" y="252.00" font-size="9.3" text-anchor="end" fill="#222">10</text>
<line x1="31.5" y1="224.20" x2="34.5" y2="224.20" stroke="#b3b3b3" stroke-width="0.8"/>
<text x="29" y="227.50" font-size="9.3" text-anchor="end" fill="#222">15</text>
<line x1="31.5" y1="199.70" x2="34.5" y2="199.70" stroke="#b3b3b3" stroke-width="0.8"/>
<text x="29" y="203.00" font-size="9.3" text-anchor="end" fill="#222">20</text>
<line x1="31.5" y1="175.20" x2="34.5" y2="175.20" stroke="#b3b3b3" stroke-width="0.8"/>
<text x="29" y="178.50" font-size="9.3" text-anchor="end" fill="#222">25</text>
<line x1="31.5" y1="150.70" x2="34.5" y2="150.70" stroke="#b3b3b3" stroke-width="0.8"/>
<text x="29" y="154.00" font-size="9.3" text-anchor="end" fill="#222">30</text>
<line x1="31.5" y1="126.20" x2="34.5" y2="126.20" stroke="#b3b3b3" stroke-width="0.8"/>
<text x="29" y="129.50" font-size="9.3" text-anchor="end" fill="#222">35</text>
<line x1="31.5" y1="101.70" x2="34.5" y2="101.70" stroke="#b3b3b3" stroke-width="0.8"/>
<text x="29" y="105.00" font-size="9.3" text-anchor="end" fill="#222">40</text>
<line x1="31.5" y1="77.20" x2="34.5" y2="77.20" stroke="#b3b3b3" stroke-width="0.8"/>
<text x="29" y="80.50" font-size="9.3" text-anchor="end" fill="#222">45</text>
<line x1="31.5" y1="52.70" x2="34.5" y2="52.70" stroke="#b3b3b3" stroke-width="0.8"/>
<text x="29" y="56.00" font-size="9.3" text-anchor="end" fill="#222">50</text>
<line x1="31.5" y1="28.20" x2="34.5" y2="28.20" stroke="#b3b3b3" stroke-width="0.8"/>
<text x="29" y="31.50" font-size="9.3" text-anchor="end" fill="#222">55</text>
<line x1="31.5" y1="3.70" x2="34.5" y2="3.70" stroke="#b3b3b3" stroke-width="0.8"/>
<text x="29" y="7.00" font-size="9.3" text-anchor="end" fill="#222">60</text>
<line x1="58.00" y1="298" x2="58.00" y2="301.8" stroke="#b3b3b3" stroke-width="0.8"/>
<text x="58.00" y="312.8" font-size="9.1" text-anchor="middle" fill="#222">1985</text>
<line x1="116.09" y1="298" x2="116.09" y2="301.8" stroke="#b3b3b3" stroke-width="0.8"/>
<text x="116.09" y="312.8" font-size="9.1" text-anchor="middle" fill="#222">1990</text>
<line x1="174.17" y1="298" x2="174.17" y2="301.8" stroke="#b3b3b3" stroke-width="0.8"/>
<text x="174.17" y="312.8" font-size="9.1" text-anchor="middle" fill="#222">1995</text>
<line x1="232.26" y1="298" x2="232.26" y2="301.8" stroke="#b3b3b3" stroke-width="0.8"/>
<text x="232.26" y="312.8" font-size="9.1" text-anchor="middle" fill="#222">2000</text>
<line x1="290.34" y1="298" x2="290.34" y2="301.8" stroke="#b3b3b3" stroke-width="0.8"/>
<text x="290.34" y="312.8" font-size="9.1" text-anchor="middle" fill="#222">2005</text>
<line x1="348.43" y1="298" x2="348.43" y2="301.8" stroke="#b3b3b3" stroke-width="0.8"/>
<text x="348.43" y="312.8" font-size="9.1" text-anchor="middle" fill="#222">2010</text>
<line x1="406.51" y1="298" x2="406.51" y2="301.8" stroke="#b3b3b3" stroke-width="0.8"/>
<text x="406.51" y="312.8" font-size="9.1" text-anchor="middle" fill="#222">2015</text>
<line x1="464.60" y1="298" x2="464.60" y2="301.8" stroke="#b3b3b3" stroke-width="0.8"/>
<text x="464.60" y="312.8" font-size="9.1" text-anchor="middle" fill="#222">2020</text>
<line x1="511.10" y1="298" x2="511.10" y2="301.8" stroke="#b3b3b3" stroke-width="0.8"/>
<text x="510.2" y="313.1" font-size="9.1" text-anchor="middle" fill="#222">Aug</text>
<text x="510.2" y="323.4" font-size="9.1" text-anchor="middle" fill="#222">2024</text>
<text x="274.2" y="334.9" font-size="9.1" text-anchor="middle" fill="#222">Year</text>
<text transform="translate(8.1,152.6) rotate(-90)" font-size="9" text-anchor="middle" fill="#111"># ADCs entering clinical development</text>
<text x="77.8" y="281.9" font-weight="bold" font-size="8.8" fill="#000">Others</text>
<text x="147.6" y="293.6" font-weight="bold" font-size="8.8" fill="#000">Calicheamicin</text>
<text x="424.2" y="234" font-weight="bold" font-size="8.8" fill="#000">PBD</text>
<text x="413.1" y="268.1" font-weight="bold" font-size="8.8" fill="#000">Auristatin</text>
<text x="405.8" y="291.5" font-weight="bold" font-size="8.8" fill="#000">Maytansinoid</text>
<text transform="translate(501.3,188.5) rotate(-90)" font-weight="bold" font-size="8.8" fill="#000">Camptothecin</text>
<path d="M164.70,19.50 A124.80,124.80 0 0 1 188.32,21.76 L169.37,120.05 A24.70,24.70 0 0 0 164.70,119.60 Z" fill="#c0504d" stroke="#bdbdbd" stroke-width="0.5"/>
<path d="M188.32,21.76 A124.80,124.80 0 0 1 211.08,28.44 L173.88,121.37 A24.70,24.70 0 0 0 169.37,120.05 Z" fill="#9bbb59" stroke="#bdbdbd" stroke-width="0.5"/>
<path d="M211.08,28.44 A124.80,124.80 0 0 1 232.17,39.31 L178.05,123.52 A24.70,24.70 0 0 0 173.88,121.37 Z" fill="#f79646" stroke="#bdbdbd" stroke-width="0.5"/>
<path d="M232.17,39.31 A124.80,124.80 0 0 1 250.82,53.98 L181.74,126.42 A24.70,24.70 0 0 0 178.05,123.52 Z" fill="#8064a2" stroke="#bdbdbd" stroke-width="0.5"/>
<path d="M250.82,53.98 A124.80,124.80 0 0 1 266.36,71.91 L184.82,129.97 A24.70,24.70 0 0 0 181.74,126.42 Z" fill="#4bacc6" stroke="#bdbdbd" stroke-width="0.5"/>
<path d="M254.38,80.44 A110.10,110.10 0 0 1 264.85,98.56 L187.17,134.04 A24.70,24.70 0 0 0 184.82,129.97 Z" fill="#dadada" stroke="#bdbdbd" stroke-width="0.5"/>
<path d="M264.85,98.56 A110.10,110.10 0 0 1 271.70,118.34 L188.70,138.48 A24.70,24.70 0 0 0 187.17,134.04 Z" fill="#f4f4f4" stroke="#bdbdbd" stroke-width="0.5"/>
<path d="M271.70,118.34 A110.10,110.10 0 0 1 274.68,139.06 L189.37,143.12 A24.70,24.70 0 0 0 188.70,138.48 Z" fill="#dadada" stroke="#bdbdbd" stroke-width="0.5"/>
<path d="M274.68,139.06 A110.10,110.10 0 0 1 273.68,159.97 L189.15,147.82 A24.70,24.70 0 0 0 189.37,143.12 Z" fill="#f4f4f4" stroke="#bdbdbd" stroke-width="0.5"/>
<path d="M273.68,159.97 A110.10,110.10 0 0 1 268.74,180.31 L188.04,152.38 A24.70,24.70 0 0 0 189.15,147.82 Z" fill="#dadada" stroke="#bdbdbd" stroke-width="0.5"/>
<path d="M268.74,180.31 A110.10,110.10 0 0 1 260.05,199.35 L186.09,156.65 A24.70,24.70 0 0 0 188.04,152.38 Z" fill="#f4f4f4" stroke="#bdbdbd" stroke-width="0.5"/>
<path d="M260.05,199.35 A110.10,110.10 0 0 1 247.91,216.40 L183.37,160.48 A24.70,24.70 0 0 0 186.09,156.65 Z" fill="#dadada" stroke="#bdbdbd" stroke-width="0.5"/>
<path d="M247.91,216.40 A110.10,110.10 0 0 1 232.76,230.84 L179.97,163.72 A24.70,24.70 0 0 0 183.37,160.48 Z" fill="#f4f4f4" stroke="#bdbdbd" stroke-width="0.5"/>
<path d="M232.76,230.84 A110.10,110.10 0 0 1 215.15,242.16 L176.02,166.25 A24.70,24.70 0 0 0 179.97,163.72 Z" fill="#dadada" stroke="#bdbdbd" stroke-width="0.5"/>
<path d="M215.15,242.16 A110.10,110.10 0 0 1 195.72,249.94 L171.66,168.00 A24.70,24.70 0 0 0 176.02,166.25 Z" fill="#f4f4f4" stroke="#bdbdbd" stroke-width="0.5"/>
<path d="M195.72,249.94 A110.10,110.10 0 0 1 175.17,253.90 L167.05,168.89 A24.70,24.70 0 0 0 171.66,168.00 Z" fill="#dadada" stroke="#bdbdbd" stroke-width="0.5"/>
<path d="M173.78,239.37 A95.50,95.50 0 0 1 155.62,239.37 L162.35,168.89 A24.70,24.70 0 0 0 167.05,168.89 Z" fill="#f4f4f4" stroke="#bdbdbd" stroke-width="0.5"/>
<path d="M155.62,239.37 A95.50,95.50 0 0 1 137.79,235.93 L157.74,168.00 A24.70,24.70 0 0 0 162.35,168.89 Z" fill="#dadada" stroke="#bdbdbd" stroke-width="0.5"/>
<path d="M137.79,235.93 A95.50,95.50 0 0 1 120.94,229.18 L153.38,166.25 A24.70,24.70 0 0 0 157.74,168.00 Z" fill="#f4f4f4" stroke="#bdbdbd" stroke-width="0.5"/>
<path d="M120.94,229.18 A95.50,95.50 0 0 1 105.67,219.37 L149.43,163.72 A24.70,24.70 0 0 0 153.38,166.25 Z" fill="#dadada" stroke="#bdbdbd" stroke-width="0.5"/>
<path d="M105.67,219.37 A95.50,95.50 0 0 1 92.53,206.84 L146.03,160.48 A24.70,24.70 0 0 0 149.43,163.72 Z" fill="#f4f4f4" stroke="#bdbdbd" stroke-width="0.5"/>
<path d="M92.53,206.84 A95.50,95.50 0 0 1 81.99,192.05 L143.31,156.65 A24.70,24.70 0 0 0 146.03,160.48 Z" fill="#dadada" stroke="#bdbdbd" stroke-width="0.5"/>
<path d="M81.99,192.05 A95.50,95.50 0 0 1 74.45,175.53 L141.36,152.38 A24.70,24.70 0 0 0 143.31,156.65 Z" fill="#f4f4f4" stroke="#bdbdbd" stroke-width="0.5"/>
<path d="M74.45,175.53 A95.50,95.50 0 0 1 70.17,157.89 L140.25,147.82 A24.70,24.70 0 0 0 141.36,152.38 Z" fill="#dadada" stroke="#bdbdbd" stroke-width="0.5"/>
<path d="M70.17,157.89 A95.50,95.50 0 0 1 69.31,139.76 L140.03,143.12 A24.70,24.70 0 0 0 140.25,147.82 Z" fill="#f4f4f4" stroke="#bdbdbd" stroke-width="0.5"/>
<path d="M69.31,139.76 A95.50,95.50 0 0 1 71.89,121.79 L140.70,138.48 A24.70,24.70 0 0 0 140.03,143.12 Z" fill="#e9e9e9" stroke="#bdbdbd" stroke-width="0.5"/>
<path d="M164.70,119.60 A24.70,24.70 0 1 1 140.70,138.48" fill="none" stroke="#000" stroke-width="1.30"/>
<path d="M164.70,63.50 A80.80,80.80 0 1 1 86.18,125.25" fill="none" stroke="#000" stroke-width="1.30"/>
<path d="M164.70,48.80 A95.50,95.50 0 1 1 71.89,121.79" fill="none" stroke="#000" stroke-width="1.30"/>
<path d="M164.70,34.20 A110.10,110.10 0 0 1 175.17,253.90" fill="none" stroke="#000" stroke-width="1.30"/>
<path d="M164.70,19.50 A124.80,124.80 0 0 1 266.36,71.91" fill="none" stroke="#000" stroke-width="1.30"/>
<line x1="72" y1="63.50" x2="165.00" y2="63.50" stroke="#000" stroke-width="1.30"/>
<line x1="72" y1="48.80" x2="165.00" y2="48.80" stroke="#000" stroke-width="1.30"/>
<line x1="72" y1="34.20" x2="165.00" y2="34.20" stroke="#000" stroke-width="1.30"/>
<line x1="72" y1="19.50" x2="165.00" y2="19.50" stroke="#000" stroke-width="1.30"/>
<text x="75.4" y="29.9" font-size="7.9" fill="#111">Approved by FDA</text>
<text x="75.4" y="44.5" font-size="7.9" fill="#111">In clinical development</text>
<text x="75.4" y="59.3" font-size="7.9" fill="#111">Discontinued</text>
<text transform="translate(172.13,66.45) rotate(-84.55) scale(0.95,1)" font-size="6.9" text-anchor="end" dy="0.43em" fill="#111">Auristatin</text>
<text transform="translate(173.08,56.55) rotate(-84.55)" font-size="7.4" text-anchor="middle" dy="0.36em" fill="#111">52</text>
<text transform="translate(174.47,41.97) rotate(-84.55)" font-size="7.4" text-anchor="middle" dy="0.36em" fill="#111">62</text>
<text transform="translate(175.86,27.38) rotate(-84.55)" font-size="7.4" text-anchor="middle" dy="0.36em" fill="#111">4</text>
<text transform="translate(186.73,69.27) rotate(-73.64) scale(0.95,1)" font-size="6.9" text-anchor="end" dy="0.43em" fill="#111">Camptothecin</text>
<text transform="translate(189.53,59.72) rotate(-73.64)" font-size="7.4" text-anchor="middle" dy="0.36em" fill="#111">2</text>
<text transform="translate(193.66,45.66) rotate(-73.64)" font-size="7.4" text-anchor="middle" dy="0.36em" fill="#111">107</text>
<text transform="translate(197.79,31.61) rotate(-73.64)" font-size="7.4" text-anchor="middle" dy="0.36em" fill="#111">2</text>
<text transform="translate(200.53,74.79) rotate(-62.73) scale(0.95,1)" font-size="6.9" text-anchor="end" dy="0.43em" fill="#111">Maytansinoid</text>
<text transform="translate(205.09,65.95) rotate(-62.73)" font-size="7.4" text-anchor="middle" dy="0.36em" fill="#111">32</text>
<text transform="translate(211.81,52.93) rotate(-62.73)" font-size="7.4" text-anchor="middle" dy="0.36em" fill="#111">7</text>
<text transform="translate(218.52,39.91) rotate(-62.73)" font-size="7.4" text-anchor="middle" dy="0.36em" fill="#111">2</text>
<text transform="translate(213.04,82.83) rotate(-51.82) scale(0.95,1)" font-size="6.9" text-anchor="end" dy="0.43em" fill="#111">PBD</text>
<text transform="translate(219.19,75.01) rotate(-51.82)" font-size="7.4" text-anchor="middle" dy="0.36em" fill="#111">25</text>
<text transform="translate(228.25,63.49) rotate(-51.82)" font-size="7.4" text-anchor="middle" dy="0.36em" fill="#111">7</text>
<text transform="translate(237.30,51.98) rotate(-51.82)" font-size="7.4" text-anchor="middle" dy="0.36em" fill="#111">1</text>
<text transform="translate(223.80,93.09) rotate(-40.91) scale(0.95,1)" font-size="6.9" text-anchor="end" dy="0.43em" fill="#111">Calicheamicin</text>
<text transform="translate(231.32,86.57) rotate(-40.91)" font-size="7.4" text-anchor="middle" dy="0.36em" fill="#111">4</text>
<text transform="translate(242.39,76.98) rotate(-40.91)" font-size="7.4" text-anchor="middle" dy="0.36em" fill="#111">0</text>
<text transform="translate(253.46,67.39) rotate(-40.91)" font-size="7.4" text-anchor="middle" dy="0.36em" fill="#111">2</text>
<text transform="translate(232.42,105.20) rotate(-30.00) scale(0.95,1)" font-size="6.9" text-anchor="end" dy="0.43em" fill="#111">Undisclosed</text>
<text transform="translate(241.04,100.22) rotate(-30.00)" font-size="7.4" text-anchor="middle" dy="0.36em" fill="#111">2</text>
<text transform="translate(253.73,92.90) rotate(-30.00)" font-size="7.4" text-anchor="middle" dy="0.36em" fill="#111">8</text>
<text transform="translate(238.60,118.72) rotate(-19.09) scale(0.95,1)" font-size="6.9" text-anchor="end" dy="0.43em" fill="#111">Tubulysin</text>
<text transform="translate(248.00,115.47) rotate(-19.09)" font-size="7.4" text-anchor="middle" dy="0.36em" fill="#111">3</text>
<text transform="translate(261.85,110.68) rotate(-19.09)" font-size="7.4" text-anchor="middle" dy="0.36em" fill="#111">7</text>
<text transform="translate(242.10,133.17) rotate(-8.18) scale(0.95,1)" font-size="6.9" text-anchor="end" dy="0.43em" fill="#111">Eribulin</text>
<text transform="translate(251.95,131.75) rotate(-8.18)" font-size="7.4" text-anchor="middle" dy="0.36em" fill="#111">0</text>
<text transform="translate(266.45,129.67) rotate(-8.18)" font-size="7.4" text-anchor="middle" dy="0.36em" fill="#111">6</text>
<text transform="translate(242.81,148.02) rotate(2.73) scale(0.95,1)" font-size="6.9" text-anchor="end" dy="0.43em" fill="#111">Duocarmycin</text>
<text transform="translate(252.75,148.49) rotate(2.73)" font-size="7.4" text-anchor="middle" dy="0.36em" fill="#111">3</text>
<text transform="translate(267.38,149.19) rotate(2.73)" font-size="7.4" text-anchor="middle" dy="0.36em" fill="#111">3</text>
<text transform="translate(240.70,162.74) rotate(13.64) scale(0.95,1)" font-size="6.9" text-anchor="end" dy="0.43em" fill="#111">TLR</text>
<text transform="translate(250.37,165.08) rotate(13.64)" font-size="7.4" text-anchor="middle" dy="0.36em" fill="#111">4</text>
<text transform="translate(264.60,168.54) rotate(13.64)" font-size="7.4" text-anchor="middle" dy="0.36em" fill="#111">2</text>
<text transform="translate(235.83,176.79) rotate(24.55) scale(0.95,1)" font-size="6.9" text-anchor="end" dy="0.43em" fill="#111">GSPT1 degrader</text>
<text transform="translate(244.88,180.92) rotate(24.55)" font-size="7.4" text-anchor="middle" dy="0.36em" fill="#111">0</text>
<text transform="translate(258.21,187.00) rotate(24.55)" font-size="7.4" text-anchor="middle" dy="0.36em" fill="#111">2</text>
<text transform="translate(228.40,189.66) rotate(35.45) scale(0.95,1)" font-size="6.9" text-anchor="end" dy="0.43em" fill="#111">STING</text>
<text transform="translate(236.50,195.43) rotate(35.45)" font-size="7.4" text-anchor="middle" dy="0.36em" fill="#111">0</text>
<text transform="translate(248.44,203.93) rotate(35.45)" font-size="7.4" text-anchor="middle" dy="0.36em" fill="#111">2</text>
<text transform="translate(218.66,200.90) rotate(46.36) scale(0.95,1)" font-size="6.9" text-anchor="end" dy="0.43em" fill="#111">Glucocorticoid</text>
<text transform="translate(225.53,208.10) rotate(46.36)" font-size="7.4" text-anchor="middle" dy="0.36em" fill="#111">2</text>
<text transform="translate(235.64,218.70) rotate(46.36)" font-size="7.4" text-anchor="middle" dy="0.36em" fill="#111">1</text>
<text transform="translate(206.98,210.09) rotate(57.27) scale(0.95,1)" font-size="6.9" text-anchor="end" dy="0.43em" fill="#111">Amanitin</text>
<text transform="translate(212.36,218.46) rotate(57.27)" font-size="7.4" text-anchor="middle" dy="0.36em" fill="#111">1</text>
<text transform="translate(220.28,230.78) rotate(57.27)" font-size="7.4" text-anchor="middle" dy="0.36em" fill="#111">1</text>
<text transform="translate(193.76,216.90) rotate(68.18) scale(0.95,1)" font-size="6.9" text-anchor="end" dy="0.43em" fill="#111">Hemiasterlin</text>
<text transform="translate(197.46,226.14) rotate(68.18)" font-size="7.4" text-anchor="middle" dy="0.36em" fill="#111">1</text>
<text transform="translate(202.91,239.74) rotate(68.18)" font-size="7.4" text-anchor="middle" dy="0.36em" fill="#111">1</text>
<text transform="translate(179.50,221.09) rotate(79.09) scale(0.95,1)" font-size="6.9" text-anchor="end" dy="0.43em" fill="#111">KSPi</text>
<text transform="translate(181.38,230.86) rotate(79.09)" font-size="7.4" text-anchor="middle" dy="0.36em" fill="#111">0</text>
<text transform="translate(184.16,245.24) rotate(79.09)" font-size="7.4" text-anchor="middle" dy="0.36em" fill="#111">1</text>
<text transform="translate(164.70,223.50) rotate(-90.00) scale(0.95,1)" font-size="6.9" text-anchor="start" dy="0.39em" fill="#111">Anthracycline</text>
<text transform="translate(164.70,232.45) rotate(-90.00)" font-size="7.4" text-anchor="middle" dy="0.36em" fill="#111">5</text>
<text transform="translate(149.71,222.07) rotate(-79.09) scale(0.95,1)" font-size="6.9" text-anchor="start" dy="0.39em" fill="#111">Vinca alkaloid</text>
<text transform="translate(148.02,230.86) rotate(-79.09)" font-size="7.4" text-anchor="middle" dy="0.36em" fill="#111">3</text>
<text transform="translate(135.26,217.83) rotate(-68.18) scale(0.95,1)" font-size="6.9" text-anchor="start" dy="0.39em" fill="#111">Methotrexate</text>
<text transform="translate(131.94,226.14) rotate(-68.18)" font-size="7.4" text-anchor="middle" dy="0.36em" fill="#111">2</text>
<text transform="translate(121.88,210.93) rotate(-57.27) scale(0.95,1)" font-size="6.9" text-anchor="start" dy="0.39em" fill="#111">BCL-XL</text>
<text transform="translate(117.04,218.46) rotate(-57.27)" font-size="7.4" text-anchor="middle" dy="0.36em" fill="#111">2</text>
<text transform="translate(110.05,201.62) rotate(-46.36) scale(0.95,1)" font-size="6.9" text-anchor="start" dy="0.39em" fill="#111">Mitomycin</text>
<text transform="translate(103.87,208.10) rotate(-46.36)" font-size="7.4" text-anchor="middle" dy="0.36em" fill="#111">2</text>
<text transform="translate(100.19,190.24) rotate(-35.45) scale(0.95,1)" font-size="6.9" text-anchor="start" dy="0.39em" fill="#111">Acetyl melphalan</text>
<text transform="translate(92.90,195.43) rotate(-35.45)" font-size="7.4" text-anchor="middle" dy="0.36em" fill="#111">1</text>
<text transform="translate(92.66,177.20) rotate(-24.55) scale(0.95,1)" font-size="6.9" text-anchor="start" dy="0.39em" fill="#111">Docetaxel</text>
<text transform="translate(84.52,180.92) rotate(-24.55)" font-size="7.4" text-anchor="middle" dy="0.36em" fill="#111">1</text>
<text transform="translate(87.73,162.97) rotate(-13.64) scale(0.95,1)" font-size="6.9" text-anchor="start" dy="0.39em" fill="#111">GNAQ/GNA11</text>
<text transform="translate(79.03,165.08) rotate(-13.64)" font-size="7.4" text-anchor="middle" dy="0.36em" fill="#111">1</text>
<text transform="translate(85.59,148.07) rotate(-2.73) scale(0.95,1)" font-size="6.9" text-anchor="start" dy="0.39em" fill="#111">Rifalogue</text>
<text transform="translate(76.65,148.49) rotate(-2.73)" font-size="7.4" text-anchor="middle" dy="0.36em" fill="#111">1</text>
<text transform="translate(86.31,133.03) rotate(8.18) scale(0.95,1)" font-size="6.9" text-anchor="start" dy="0.39em" fill="#111">Neocarzinostatin</text>
<text transform="translate(77.45,131.75) rotate(8.18)" font-size="7.4" text-anchor="middle" dy="0.36em" fill="#111">1</text>
</svg>
</body></html>
